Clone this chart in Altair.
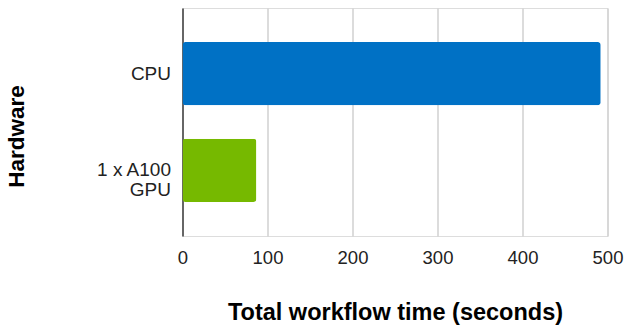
import altair as alt
import pandas as pd

hardware = ["CPU", "1 x A100 GPU"]
times = [492, 87]
colors = ["#0071c5", "#76b900"]

df = pd.DataFrame({"Hardware": hardware, "Time": times, "Color": colors})

FONT = "Liberation Sans"

chart = alt.Chart(df).mark_bar(cornerRadius=3).encode(
    y=alt.Y(
        "Hardware:N",
        sort=hardware,
        scale=alt.Scale(paddingInner=0.347, paddingOuter=0.352),
        axis=alt.Axis(
            title="Hardware",
            titleFont=FONT,
            titleFontSize=22.5,
            titleFontWeight="bold",
            titleColor="#000000",
            titleAngle=270,
            titleX=-166,
            titleY=128,
            titleAlign="center",
            titleBaseline="middle",
            labelFont=FONT,
            labelFontSize=19,
            labelColor="#222222",
            labelPadding=12,
            labelLineHeight=20,
            labelExpr="datum.value == '1 x A100 GPU' ? ['1 x A100', 'GPU'] : datum.value",
            ticks=False,
            tickSize=0,
            domain=True,
            domainColor="#666666",
            domainWidth=2,
            grid=False,
        ),
    ),
    x=alt.X(
        "Time:Q",
        scale=alt.Scale(domain=[0, 500], nice=False),
        axis=alt.Axis(
            title="Total workflow time (seconds)",
            titleFont=FONT,
            titleFontSize=23.5,
            titleFontWeight="bold",
            titleColor="#000000",
            titleBaseline="alphabetic",
            titleY=83,
            values=[0, 100, 200, 300, 400, 500],
            labelFont=FONT,
            labelFontSize=18.5,
            labelColor="#222222",
            labelBaseline="alphabetic",
            labelPadding=27,
            labelFlush=False,
            labelOverlap=False,
            ticks=False,
            tickSize=0,
            domain=False,
            grid=True,
            gridColor="#d0d0d0",
            gridWidth=1.5,
        ),
    ),
    color=alt.Color("Color:N", scale=None, legend=None),
).properties(
    width=425,
    height=228,
    autosize=alt.AutoSizeParams(type="none"),
    padding={"left": 182.5, "top": 8, "right": 17.5, "bottom": 98},
).configure_view(stroke=None).configure(background="white")

chart.save("out.html", embed_options={"renderer": "svg", "actions": False})
